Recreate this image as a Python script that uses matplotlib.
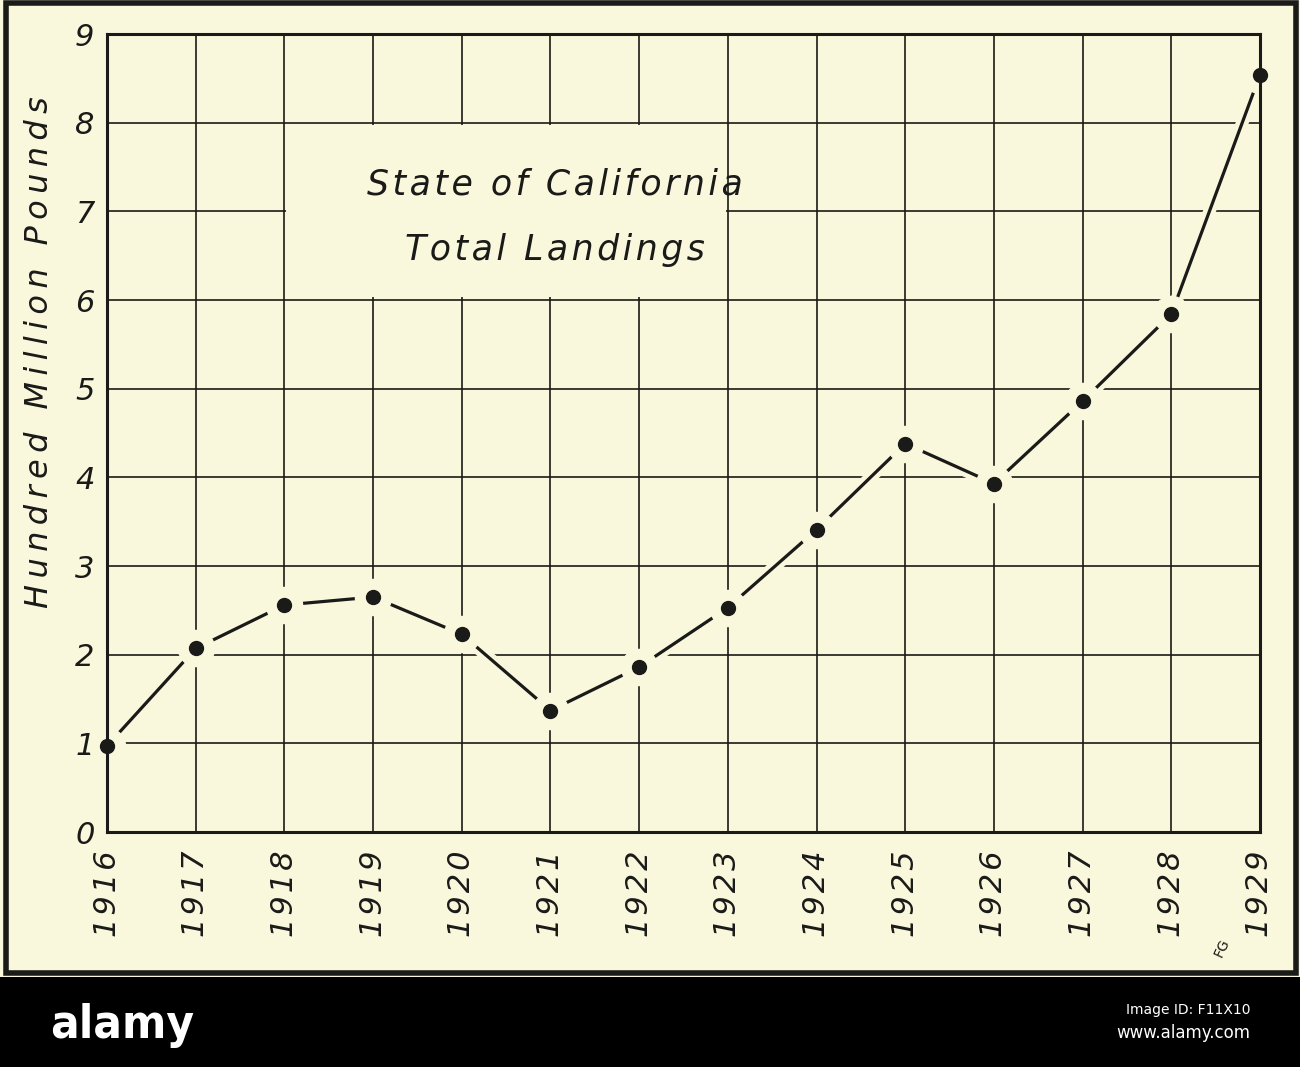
import matplotlib
matplotlib.use("Agg")
import matplotlib.pyplot as plt
from matplotlib.patches import Rectangle

# California total landings, hundred million pounds
years = [1916, 1917, 1918, 1919, 1920, 1921, 1922,
         1923, 1924, 1925, 1926, 1927, 1928, 1929]
landings = [0.97, 2.07, 2.56, 2.65, 2.23, 1.37, 1.86,
            2.53, 3.41, 4.38, 3.93, 4.86, 5.84, 8.54]
y_ticks = [0, 1, 2, 3, 4, 5, 6, 7, 8, 9]
title_lines = ["State of California", "Total Landings"]
y_label = "Hundred Million Pounds"

paper = "#f9f7dc"
ink = "#1a1a18"


def spaced(s, sep="\u200a"):
    # crude letter spacing, the original lettering is wide
    return sep.join(s)


W, H = 1300, 1067
fig = plt.figure(figsize=(W / 100, H / 100), dpi=100, facecolor=paper)
plt.rcParams["font.family"] = ["DejaVu Sans"]

ax = fig.add_axes([107 / W, 1 - 832 / H, (1260 - 107) / W, (832 - 34) / H])
ax.set_facecolor(paper)
ax.set_xlim(years[0], years[-1])
ax.set_ylim(y_ticks[0], y_ticks[-1])

ax.set_xticks(years)
ax.set_xticklabels([spaced(str(y)) for y in years], rotation=90,
                   fontsize=22, style="italic", color=ink)
ax.set_yticks(y_ticks)
ax.set_yticklabels([str(v) for v in y_ticks], fontsize=22, style="italic", color=ink)
ax.tick_params(axis="x", length=0, pad=13)
ax.tick_params(axis="y", length=0, pad=9)

ax.set_axisbelow(True)
ax.grid(True, color=ink, lw=1.2)
for sp in ax.spines.values():
    sp.set_linewidth(2.2)
    sp.set_color(ink)
    sp.set_zorder(4.5)

# blank panel behind the caption (grid interrupted there)
box_x0, box_x1, box_y0, box_y1 = 1918, 1923, 6, 8
ax.add_patch(Rectangle((box_x0 + 0.02, box_y0 + 0.03),
                       box_x1 - box_x0 - 0.04, box_y1 - box_y0 - 0.06,
                       facecolor=paper, edgecolor="none", zorder=1))

# paper-coloured halo so the grid breaks where the curve crosses it
ax.plot(years, landings, color=paper, lw=9, zorder=2, solid_capstyle="butt")
ax.plot(years, landings, color=ink, lw=2.3, zorder=3)
ax.plot(years, landings, ls="none", marker="o", ms=26, mfc=paper, mec=paper,
        zorder=3.5, clip_on=False)
ax.plot(years, landings, ls="none", marker="o", ms=10, mfc=ink, mec=ink,
        zorder=5, clip_on=False)

cx = (box_x0 + box_x1) / 2 + 0.55
ax.text(cx, 7.30, spaced(title_lines[0]), fontsize=25, style="italic",
        ha="center", va="center", color=ink, zorder=6)
ax.text(cx, 6.56, spaced(title_lines[1]), fontsize=25, style="italic",
        ha="center", va="center", color=ink, zorder=6)

fig.text(40 / W, 1 - 352 / H, spaced(y_label, "\u2009"), rotation=90,
         fontsize=23, style="italic", ha="center", va="center", color=ink)

# artist's initials
fig.text(1222 / W, 1 - 948 / H, "FG", fontsize=10, rotation=65,
         ha="center", va="center", color=ink)

# page frame
fig.patches.append(Rectangle((6 / W, 1 - 973 / H), (1296 - 6) / W, (973 - 3) / H,
                             transform=fig.transFigure, fill=False,
                             edgecolor=ink, lw=4))

# stock-photo strip at the bottom
fig.patches.append(Rectangle((0, 0), 1, (H - 977) / H, transform=fig.transFigure,
                             facecolor="black", edgecolor="none"))
fig.text(50 / W, 1 - 1025 / H, "alamy", fontsize=34, weight="bold",
         color="white", ha="left", va="center", stretch="condensed")
fig.text(1250 / W, 1 - 1010 / H, "Image ID: F11X10", fontsize=10,
         color="white", ha="right", va="center")
fig.text(1250 / W, 1 - 1033 / H, "www.alamy.com", fontsize=12,
         color="white", ha="right", va="center")

fig.savefig("out.png", dpi=100, facecolor=paper)
